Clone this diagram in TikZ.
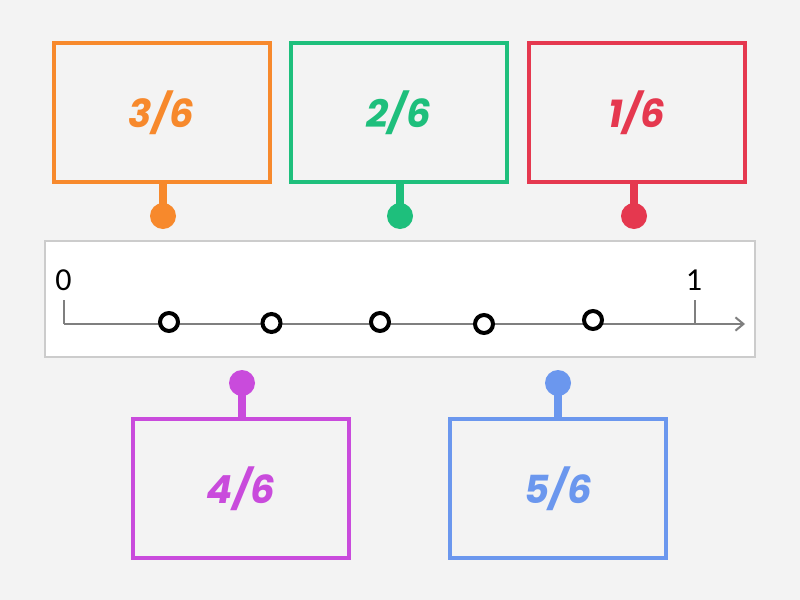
\documentclass[tikz,border=0pt]{standalone}
\usepackage{fontspec}
\newfontfamily\lab{Poppins}
\newfontfamily\axf{Carlito}
\usetikzlibrary{arrows.meta}
\definecolor{bg}{HTML}{F3F3F3}
\definecolor{cOr}{HTML}{F7892C}
\definecolor{cGr}{HTML}{1EBF7C}
\definecolor{cRd}{HTML}{E5384F}
\definecolor{cPu}{HTML}{C94BDC}
\definecolor{cBl}{HTML}{6B97EE}
\definecolor{panelline}{HTML}{CCCCCC}
\definecolor{axisgray}{HTML}{7F7F7F}
\begin{document}
\begin{tikzpicture}[x=0.75pt,y=-0.75pt,
  fracbox/.style={draw=#1, line width=3pt, fill=bg, minimum width=162pt,
    minimum height=104pt, inner sep=0pt, text=#1,
    font=\lab\bfseries\itshape\fontsize{29}{29}\selectfont},
  pinball/.style={circle, fill=#1, inner sep=0pt, minimum size=19.5pt},
  stem/.style={draw=#1, line width=6pt},
  ptdot/.style={circle, draw=black, line width=3pt, fill=white,
    inner sep=0pt, minimum size=13.5pt},
  axisline/.style={draw=axisgray, line width=1.5pt},
  axislab/.style={font=\axf\fontsize{24}{24}\selectfont, text=black, inner sep=0pt}
]
\useasboundingbox (0,0) rectangle (800,600);
\fill[bg] (0,0) rectangle (800,600);

% panel
\draw[draw=panelline, line width=2.2pt, fill=white] (45,241) rectangle (755,357);

% axis
\coordinate (a0) at (64,324);
\coordinate (a1) at (745,324);
\coordinate (t0) at (64,300);
\coordinate (t1b) at (695,324);
\coordinate (t1) at (695,300);
\draw[axisline, -{Straight Barb[length=6pt,width=10pt,line width=1.5pt]}] (a0) -- (a1);
\draw[axisline] (t0) -- (a0);
\draw[axisline] (t1) -- (t1b);
\node[axislab] (l0) at (63.5,280) {0};
\node[axislab] (l1) at (694,280) {1};

% points
\node[ptdot] (p1) at (169,322) {};
\node[ptdot] (p2) at (271.5,323) {};
\node[ptdot] (p3) at (380,322) {};
\node[ptdot] (p4) at (484,324) {};
\node[ptdot] (p5) at (593,320) {};

% boxes
\node[fracbox=cOr] (bOr) at (161.5,112.5) {3/6};
\node[fracbox=cGr] (bGr) at (399,112.5) {2/6};
\node[fracbox=cRd] (bRd) at (637,112.5) {1/6};
\node[fracbox=cPu] (bPu) at (241,488.5) {4/6};
\node[fracbox=cBl] (bBl) at (558,488.5) {5/6};

% pins
\node[pinball=cOr] (pOr) at (163,216) {};
\node[pinball=cGr] (pGr) at (400,216) {};
\node[pinball=cRd] (pRd) at (634,216) {};
\node[pinball=cPu] (pPu) at (242,383) {};
\node[pinball=cBl] (pBl) at (558,383) {};

\draw[stem=cOr] (bOr.south -| pOr) -- (pOr.center);
\draw[stem=cGr] (bGr.south -| pGr) -- (pGr.center);
\draw[stem=cRd] (bRd.south -| pRd) -- (pRd.center);
\draw[stem=cPu] (bPu.north -| pPu) -- (pPu.center);
\draw[stem=cBl] (bBl.north -| pBl) -- (pBl.center);
\end{tikzpicture}
\end{document}
